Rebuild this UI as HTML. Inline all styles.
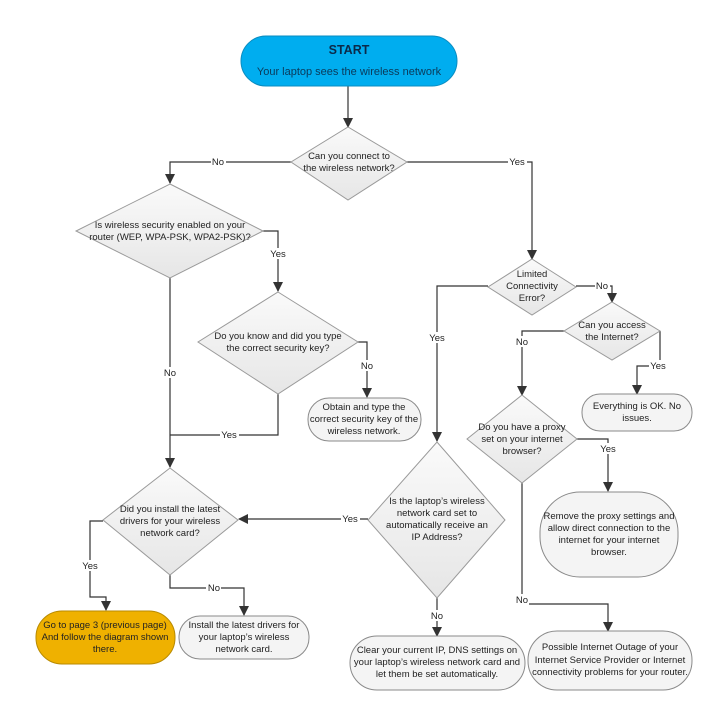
<!DOCTYPE html>
<html><head><meta charset="utf-8"><style>
html,body{margin:0;padding:0;background:#fff;}
svg{display:block}
text{font-family:"Liberation Sans",sans-serif;font-size:9.5px;fill:#222;text-anchor:middle;}
.d{fill:#f0f0f0;stroke:#9a9a9a;stroke-width:1;}
.p{fill:#f4f4f4;stroke:#8a8a8a;stroke-width:1;}
.l{fill:none;stroke:#333;stroke-width:1.2;}
.lb{fill:#fff;}
</style></head><body>
<svg width="728" height="728" viewBox="0 0 728 728">
<defs><marker id="a" markerWidth="10" markerHeight="10" refX="9" refY="5" orient="auto" markerUnits="userSpaceOnUse"><path d="M0,0 L10,5 L0,10 z" fill="#333"/></marker>
<linearGradient id="g" x1="0" y1="0" x2="0" y2="1"><stop offset="0" stop-color="#fafafa"/><stop offset="1" stop-color="#e6e6e6"/></linearGradient></defs>

<!-- connectors -->
<path class="l" d="M348,86 V127" marker-end="url(#a)"/>
<path class="l" d="M291,162 H170 V183" marker-end="url(#a)"/>
<path class="l" d="M407,162 H532 V259" marker-end="url(#a)"/>
<path class="l" d="M263,231 H278 V291" marker-end="url(#a)"/>
<path class="l" d="M170,278 V467" marker-end="url(#a)"/>
<path class="l" d="M358,342 H367 V397" marker-end="url(#a)"/>
<path class="l" d="M278,394 V435 H170"/>
<path class="l" d="M103,521 H90 V597 H106 V610" marker-end="url(#a)"/>
<path class="l" d="M170,575 V588 H244 V615" marker-end="url(#a)"/>
<path class="l" d="M368,519 H239" marker-end="url(#a)"/>
<path class="l" d="M488,286 H437 V441" marker-end="url(#a)"/>
<path class="l" d="M576,286 H612 V302" marker-end="url(#a)"/>
<path class="l" d="M564,331 H522 V395" marker-end="url(#a)"/>
<path class="l" d="M660,331 V366 H637 V394" marker-end="url(#a)"/>
<path class="l" d="M577,439 H608 V491" marker-end="url(#a)"/>
<path class="l" d="M522,483 V604 H608 V631" marker-end="url(#a)"/>
<path class="l" d="M437,598 V636" marker-end="url(#a)"/>

<!-- start -->
<rect x="241" y="36" width="216" height="50" rx="25" fill="#00adef" stroke="#0a8cc0"/>
<text x="349" y="54" style="font-size:12.5px;font-weight:bold;fill:#0b2a4a">START</text>
<text x="349" y="75" style="font-size:11px;fill:#0b3a5a">Your laptop sees the wireless network</text>

<!-- diamonds -->
<polygon class="d" fill="url(#g)" points="348,127 407,162 348,200 291,162" style="fill:url(#g)"/>
<text x="349" y="159">Can you connect to</text><text x="349" y="171">the wireless network?</text>

<polygon class="d" points="170,184 263,231 170,278 76,231" style="fill:url(#g)"/>
<text x="170" y="228">Is wireless security enabled on your</text><text x="170" y="240">router (WEP, WPA-PSK, WPA2-PSK)?</text>

<polygon class="d" points="278,292 358,342 278,394 198,342" style="fill:url(#g)"/>
<text x="278" y="339">Do you know and did you type</text><text x="278" y="351">the correct security key?</text>

<polygon class="d" points="170,468 238,520 170,575 103,520" style="fill:url(#g)"/>
<text x="170" y="512">Did you install the latest</text><text x="170" y="524">drivers for your wireless</text><text x="170" y="536">network card?</text>

<polygon class="d" points="437,442 505,520 437,598 368,520" style="fill:url(#g)"/>
<text x="437" y="504">Is the laptop’s wireless</text><text x="437" y="516">network card set to</text><text x="437" y="528">automatically receive an</text><text x="437" y="540">IP Address?</text>

<polygon class="d" points="532,259 576,287 532,315 488,287" style="fill:url(#g)"/>
<text x="532" y="277">Limited</text><text x="532" y="289">Connectivity</text><text x="532" y="301">Error?</text>

<polygon class="d" points="612,302 660,331 612,360 564,331" style="fill:url(#g)"/>
<text x="612" y="328">Can you access</text><text x="612" y="340">the Internet?</text>

<polygon class="d" points="522,395 577,439 522,483 467,439" style="fill:url(#g)"/>
<text x="522" y="430">Do you have a proxy</text><text x="522" y="442">set on your internet</text><text x="522" y="454">browser?</text>

<!-- terminals -->
<rect class="p" x="308" y="398" width="113" height="43" rx="21"/>
<text x="364" y="410">Obtain and type the</text><text x="364" y="422">correct security key of the</text><text x="364" y="434">wireless network.</text>

<rect x="36" y="611" width="139" height="53" rx="26" fill="#efb100" stroke="#b88a00"/>
<text x="105" y="628">Go to page 3 (previous page)</text><text x="105" y="640">And follow the diagram shown</text><text x="105" y="652">there.</text>

<rect class="p" x="179" y="616" width="130" height="43" rx="21"/>
<text x="244" y="628">Install the latest drivers for</text><text x="244" y="640">your laptop’s wireless</text><text x="244" y="652">network card.</text>

<rect class="p" x="582" y="394" width="110" height="37" rx="18"/>
<text x="637" y="409">Everything is OK. No</text><text x="637" y="421">issues.</text>

<rect class="p" x="540" y="492" width="138" height="85" rx="40"/>
<text x="609" y="519">Remove the proxy settings and</text><text x="609" y="531">allow direct connection to the</text><text x="609" y="543">internet for your internet</text><text x="609" y="555">browser.</text>

<rect class="p" x="350" y="636" width="175" height="54" rx="27"/>
<text x="437" y="653">Clear your current IP, DNS settings on</text><text x="437" y="665">your laptop’s wireless network card and</text><text x="437" y="677">let them be set automatically.</text>

<rect class="p" x="528" y="631" width="164" height="59" rx="29"/>
<text x="610" y="650">Possible Internet Outage of your</text><text x="610" y="663">Internet Service Provider or Internet</text><text x="610" y="675">connectivity problems for your router.</text>

<!-- labels -->
<g>
<rect class="lb" x="211" y="156" width="15" height="11"/><text x="218" y="165">No</text>
<rect class="lb" x="508" y="156" width="19" height="11"/><text x="517" y="165">Yes</text>
<rect class="lb" x="269" y="248" width="19" height="11"/><text x="278" y="257">Yes</text>
<rect class="lb" x="162" y="367" width="15" height="11"/><text x="170" y="376">No</text>
<rect class="lb" x="359" y="360" width="15" height="11"/><text x="367" y="369">No</text>
<rect class="lb" x="220" y="429" width="19" height="11"/><text x="229" y="438">Yes</text>
<rect class="lb" x="81" y="560" width="19" height="11"/><text x="90" y="569">Yes</text>
<rect class="lb" x="206" y="582" width="15" height="11"/><text x="214" y="591">No</text>
<rect class="lb" x="341" y="513" width="19" height="11"/><text x="350" y="522">Yes</text>
<rect class="lb" x="428" y="332" width="19" height="11"/><text x="437" y="341">Yes</text>
<rect class="lb" x="595" y="280" width="15" height="11"/><text x="602" y="289">No</text>
<rect class="lb" x="514" y="336" width="15" height="11"/><text x="522" y="345">No</text>
<rect class="lb" x="649" y="360" width="19" height="11"/><text x="658" y="369">Yes</text>
<rect class="lb" x="599" y="443" width="19" height="11"/><text x="608" y="452">Yes</text>
<rect class="lb" x="514" y="594" width="15" height="11"/><text x="522" y="603">No</text>
<rect class="lb" x="429" y="610" width="15" height="11"/><text x="437" y="619">No</text>
</g>
</svg>
</body></html>
